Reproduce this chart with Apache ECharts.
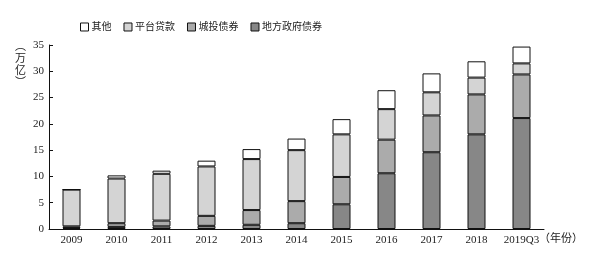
<!DOCTYPE html>
<html>
<head>
<meta charset="utf-8">
<script src="https://cdn.jsdelivr.net/npm/echarts@6/dist/echarts.min.js"></script>
<style>
  html, body { margin: 0; padding: 0; background: #fff; }
  #chart { width: 605px; height: 260px; }
</style>
</head>
<body>
<div id="chart"></div>
<script>
// 数据
var years = ["2009", "2010", "2011", "2012", "2013", "2014", "2015", "2016", "2017", "2018", "2019Q3"];
var govBond = [0.2, 0.4, 0.5, 0.6, 0.8, 1.1, 4.7, 10.6, 14.6, 18.0, 21.1];     // 地方政府债券
var ctBond = [0.3, 0.7, 1.1, 1.9, 2.8, 4.2, 5.2, 6.4, 7.0, 7.6, 8.3];          // 城投债券
var platformLoan = [7.0, 8.5, 8.9, 9.4, 9.7, 9.7, 8.1, 5.8, 4.4, 3.2, 2.1];    // 平台贷款
var other = [0, 0.6, 0.6, 1.1, 1.9, 2.2, 2.9, 3.6, 3.6, 3.1, 3.2];             // 其他

(function () {
  var myChart = echarts.init(document.getElementById("chart"));
  var font = "'Liberation Serif', 'Noto Sans CJK SC', serif";
  const barItem = (color) => {
    return { color: color, borderColor: "#111", borderWidth: 1 };
  };
  var option = {
    animation: false,
    textStyle: { fontFamily: font, color: "#222" },
    legend: {
      top: 17,
      left: 75,
      icon: "rect",
      itemWidth: 8,
      itemHeight: 8,
      itemGap: 12,
      itemStyle: { borderColor: "#111", borderWidth: 1 },
      textStyle: { fontSize: 10, color: "#222", fontFamily: font, padding: [0, 0, 0, -2] },
      data: ["其他", "平台贷款", "城投债券", "地方政府债券"],
    },
    grid: { left: 49, right: 61, top: 45, bottom: 31 },
    xAxis: {
      type: "category",
      data: years,
      axisLine: { lineStyle: { color: "#111", width: 1 } },
      axisTick: { inside: true, length: 5, lineStyle: { color: "#111" } },
      axisLabel: { interval: 0, fontSize: 11, color: "#222", margin: 6, fontFamily: font },
    },
    yAxis: {
      type: "value",
      min: 0,
      max: 35,
      interval: 5,
      splitLine: { show: false },
      axisLine: { show: true, lineStyle: { color: "#111", width: 1 } },
      axisTick: { show: true, inside: true, length: 4, lineStyle: { color: "#111" } },
      axisLabel: { fontSize: 11, color: "#222", margin: 5, fontFamily: font },
    },
    graphic: [
      {
        type: "text",
        left: 15,
        top: 40,
        style: { text: "︵\n万\n亿\n︶", font: "11px 'Noto Sans CJK SC'", fill: "#222", lineHeight: 12 },
      },
      {
        type: "text",
        left: 539,
        top: 232,
        style: { text: "（年份）", font: "11px 'Noto Sans CJK SC'", fill: "#222" },
      },
    ],
    series: [
      { name: "地方政府债券", type: "bar", stack: "t", barWidth: 18, data: govBond, itemStyle: barItem("#878787") },
      { name: "城投债券", type: "bar", stack: "t", barWidth: 18, data: ctBond, itemStyle: barItem("#ababab") },
      { name: "平台贷款", type: "bar", stack: "t", barWidth: 18, data: platformLoan, itemStyle: barItem("#d4d4d4") },
      { name: "其他", type: "bar", stack: "t", barWidth: 18, data: other, itemStyle: barItem("#ffffff") },
    ],
  };
  myChart.setOption(option);
  window.addEventListener("resize", function () {
    myChart.resize();
  });
})();
</script>
</body>
</html>
